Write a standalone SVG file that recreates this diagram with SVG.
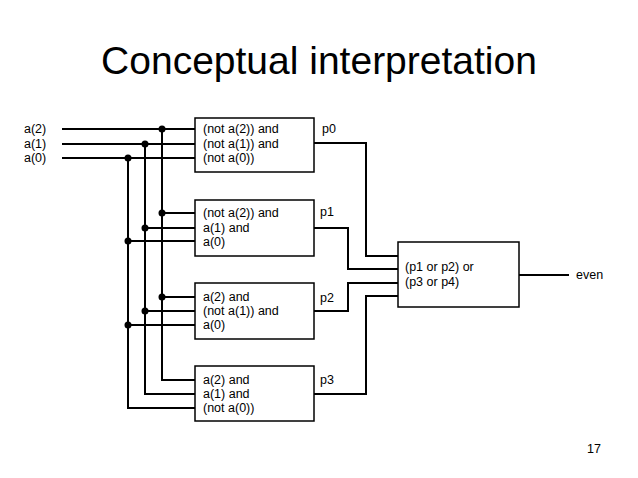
<svg xmlns="http://www.w3.org/2000/svg" width="638" height="478" viewBox="0 0 638 478">
<style>
text{font-family:"Liberation Sans",Arial,sans-serif;fill:#000}
.t{font-size:12.5px}
.b{fill:#fff;stroke:#000;stroke-width:1.5}
.w{fill:none;stroke:#000;stroke-width:2}
</style>
<rect width="638" height="478" fill="#fff"/>
<text x="319" y="74" font-size="39" text-anchor="middle">Conceptual interpretation</text>
<text class="t" x="24" y="133">a(2)</text>
<text class="t" x="24" y="148">a(1)</text>
<text class="t" x="24" y="162">a(0)</text>
<g id="connectors">
<path class="w" d="M62 129H195M62 144H195M62 158H195"/>
<path class="w" d="M128 158V408H195M145 144V394H195M162 129V380H195"/>
<path class="w" d="M162 213H195M145 228H195M128 241H195M162 297H195M145 311H195M128 325H195"/>
<path class="w" d="M314 143H366V256H398M314 228H348V269H398M314 311H348V283H398M314 394H366V296H398M519 275H569"/>
<g fill="#000">
<circle cx="162" cy="129" r="3.5"/><circle cx="145" cy="144" r="3.5"/><circle cx="128" cy="158" r="3.5"/>
<circle cx="162" cy="213" r="3.5"/><circle cx="145" cy="228" r="3.5"/><circle cx="128" cy="241" r="3.5"/>
<circle cx="162" cy="297" r="3.5"/><circle cx="145" cy="311" r="3.5"/><circle cx="128" cy="325" r="3.5"/>
</g>
</g>
<g id="n0"><rect class="b" x="195" y="118" width="119" height="54"/><text class="t" x="203" y="133">(not a(2)) and</text><text class="t" x="203" y="148">(not a(1)) and</text><text class="t" x="203" y="162">(not a(0))</text><text class="t" x="322" y="133">p0</text></g>
<g id="n1"><rect class="b" x="195" y="200" width="119" height="56"/><text class="t" x="203" y="217">(not a(2)) and</text><text class="t" x="203" y="232">a(1) and</text><text class="t" x="203" y="246">a(0)</text><text class="t" x="320" y="216">p1</text></g>
<g id="n2"><rect class="b" x="195" y="283" width="119" height="56"/><text class="t" x="203" y="301">a(2) and</text><text class="t" x="203" y="315">(not a(1)) and</text><text class="t" x="203" y="329">a(0)</text><text class="t" x="320" y="302">p2</text></g>
<g id="n3"><rect class="b" x="195" y="366" width="119" height="55"/><text class="t" x="203" y="384">a(2) and</text><text class="t" x="203" y="398">a(1) and</text><text class="t" x="203" y="412">(not a(0))</text><text class="t" x="320" y="384">p3</text></g>
<g id="or"><rect class="b" x="398" y="242" width="121" height="65"/><text class="t" x="405" y="271">(p1 or p2) or</text><text class="t" x="405" y="286">(p3 or p4)</text></g>
<text class="t" x="576" y="279">even</text>
<text class="t" x="587" y="453">17</text>
</svg>
